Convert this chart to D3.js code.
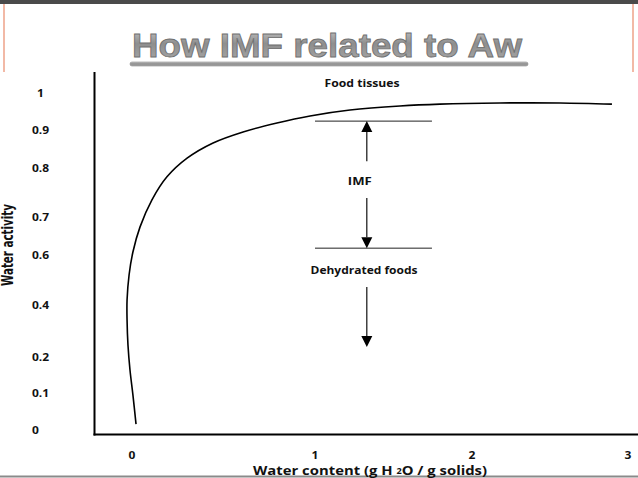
<!DOCTYPE html>
<html>
<head>
<meta charset="utf-8">
<script src="https://cdn.jsdelivr.net/npm/d3@7"></script>
<style>
  body { margin: 0; background: #fff; }
  svg { display: block; }
</style>
</head>
<body>
<div id="chart"></div>
<script>
// tick labels as printed on the figure (spacing is not uniform)
const yTicks = [0, 0.1, 0.2, 0.4, 0.6, 0.7, 0.8, 0.9, 1];
const yTickPos = [430, 393, 357, 305, 255, 217, 168, 130, 93];
const xTicks = [0, 1, 2, 3];
const xTickPos = [132, 315, 472, 628];

// sorption curve: water content, water activity
const waterContent = [0.022, 0.005, -0.011, -0.022, -0.027, -0.027, -0.016, 0.005, 0.044, 0.109,
    0.191, 0.301, 0.443, 0.607, 0.792, 0.973, 1.223, 1.541, 1.796, 2.179, 2.564, 2.897];
const waterActivity = [0.016, 0.095, 0.164, 0.246, 0.342, 0.42, 0.52, 0.608, 0.674, 0.735,
    0.782, 0.826, 0.866, 0.895, 0.919, 0.938, 0.954, 0.965, 0.970, 0.973, 0.973, 0.970];

// IMF band limits and the arrows
const bandLimits = [0.924, 0.618];
const bandX = [1.0, 1.745];
const arrowX = 1.33;
const imfUp = [0.818, 0.924];
const imfDown = [0.739, 0.618];
const dryDown = [0.472, 0.238];

const width = 638, height = 478;
const svg = d3.select("#chart").append("svg")
    .attr("width", width)
    .attr("height", height);

const x = d3.scaleLinear().domain(xTicks).range(xTickPos);
const y = d3.scaleLinear().domain(yTicks).range(yTickPos);

//slide frame
svg.append("rect").attr("x", 0).attr("y", 0).attr("width", width).attr("height", 4).attr("fill", "#4a4a4a");
svg.append("line").attr("x1", 4).attr("x2", 4).attr("y1", 4).attr("y2", 72)
    .attr("stroke", "#f2b9a6").attr("stroke-width", 2);
svg.append("line").attr("x1", 633).attr("x2", 633).attr("y1", 4).attr("y2", 72)
    .attr("stroke", "#f2b9a6").attr("stroke-width", 2);
svg.append("line").attr("x1", 0).attr("x2", width).attr("y1", 476.5).attr("y2", 476.5)
    .attr("stroke", "#8a8a8a").attr("stroke-width", 2);

//title
const defs = svg.append("defs");
const grad = defs.append("linearGradient").attr("id", "titleGrad")
    .attr("x1", 0).attr("x2", 0).attr("y1", 0).attr("y2", 1);
grad.append("stop").attr("offset", "0%").attr("stop-color", "#c9c9c9");
grad.append("stop").attr("offset", "45%").attr("stop-color", "#8e8e8e");
grad.append("stop").attr("offset", "100%").attr("stop-color", "#a9a9a9");

svg.append("text")
    .attr("x", 132).attr("y", 57)
    .attr("textLength", 390)
    .attr("lengthAdjust", "spacingAndGlyphs")
    .attr("font-family", "Liberation Sans, Arial, sans-serif")
    .attr("font-weight", "bold")
    .attr("font-size", 33)
    .attr("fill", "url(#titleGrad)")
    .attr("stroke", "#6f6f6f")
    .attr("stroke-width", 0.8)
    .text("How IMF related to Aw");
svg.append("rect").attr("x", 130).attr("y", 62).attr("width", 398).attr("height", 4)
    .attr("rx", 2).attr("fill", "url(#titleGrad)").attr("stroke", "#8a8a8a").attr("stroke-width", 0.6);

//axes
const axisY = 434.5;
const axisX = 94.5;
svg.append("line").attr("x1", axisX).attr("x2", axisX).attr("y1", 72).attr("y2", axisY + 1)
    .attr("stroke", "#000").attr("stroke-width", 2);
svg.append("line").attr("x1", axisX - 1).attr("x2", width).attr("y1", axisY).attr("y2", axisY)
    .attr("stroke", "#000").attr("stroke-width", 2);

const labelFont = "Open Sans, Liberation Sans, sans-serif";

// the source figure is stretched sideways, so tick glyphs are widened a little
svg.append("g").selectAll("text")
    .data(yTicks)
    .join("text")
    .attr("transform", d => `translate(${d === 1 ? 37 : 32},${y(d)})scale(1.2,1)`)
    .attr("dy", "0.35em")
    .attr("font-family", labelFont)
    .attr("font-weight", "bold")
    .attr("font-size", 10)
    .attr("fill", "#111")
    .text(d => d);

svg.append("g").selectAll("text")
    .data(xTicks)
    .join("text")
    .attr("transform", d => `translate(${x(d)},455)scale(1.2,1)`)
    .attr("dy", "0.35em")
    .attr("text-anchor", "middle")
    .attr("font-family", labelFont)
    .attr("font-weight", "bold")
    .attr("font-size", 10)
    .attr("fill", "#111")
    .text(d => d);

const xTitle = svg.append("text")
    .attr("x", 253).attr("y", 475)
    .attr("textLength", 234)
    .attr("lengthAdjust", "spacingAndGlyphs")
    .attr("font-family", labelFont)
    .attr("font-weight", "bold")
    .attr("font-size", 13)
    .attr("fill", "#111");
xTitle.append("tspan").text("Water content (g H ");
xTitle.append("tspan").attr("font-size", 8).attr("dy", -1).text("2");
xTitle.append("tspan").attr("dy", 1).text("O / g solids)");

svg.append("text")
    .attr("transform", "translate(13,245)rotate(-90)")
    .attr("text-anchor", "middle")
    .attr("textLength", 82)
    .attr("lengthAdjust", "spacingAndGlyphs")
    .attr("font-family", "Liberation Sans Narrow, DejaVu Sans Condensed, sans-serif")
    .attr("font-weight", "bold")
    .attr("font-size", 15)
    .attr("fill", "#111")
    .text("Water activity");

//curve
const pts = d3.zip(waterContent, waterActivity);
svg.append("path")
    .datum(pts)
    .attr("fill", "none")
    .attr("stroke", "#000")
    .attr("stroke-width", 1.6)
    .attr("d", d3.line()
        .x(d => x(d[0]))
        .y(d => y(d[1]))
        .curve(d3.curveCatmullRom.alpha(0.5)));

//IMF band
svg.append("g").selectAll("line")
    .data(bandLimits)
    .join("line")
    .attr("x1", x(bandX[0])).attr("x2", x(bandX[1]))
    .attr("y1", d => y(d)).attr("y2", d => y(d))
    .attr("stroke", "#222").attr("stroke-width", 1);

const arrowPath = (from, to) => {
    const ax = x(arrowX), y0 = y(from), y1 = y(to);
    const dir = y1 > y0 ? 1 : -1;
    const hb = y1 - dir * 11;
    return {
        shaft: `M${ax},${y0}L${ax},${hb}`,
        head: `M${ax},${y1}L${ax - 5.5},${hb}L${ax + 5.5},${hb}Z`
    };
};
[imfUp, imfDown, dryDown].forEach(a => {
    const p = arrowPath(a[0], a[1]);
    svg.append("path").attr("d", p.shaft).attr("stroke", "#111").attr("stroke-width", 1.2);
    svg.append("path").attr("d", p.head).attr("fill", "#000");
});

const noteFont = "Open Sans, Liberation Sans, sans-serif";
const note = (label, cx, cy, len) => svg.append("text")
    .attr("x", cx - len / 2).attr("y", cy)
    .attr("textLength", len)
    .attr("lengthAdjust", "spacingAndGlyphs")
    .attr("font-family", noteFont).attr("font-weight", "bold").attr("font-size", 10.5)
    .attr("fill", "#111")
    .text(label);
note("Food tissues", 362, 87, 75);
note("IMF", x(arrowX) - 7, 185, 24);
note("Dehydrated foods", 364, 274, 107);
</script>
</body>
</html>
